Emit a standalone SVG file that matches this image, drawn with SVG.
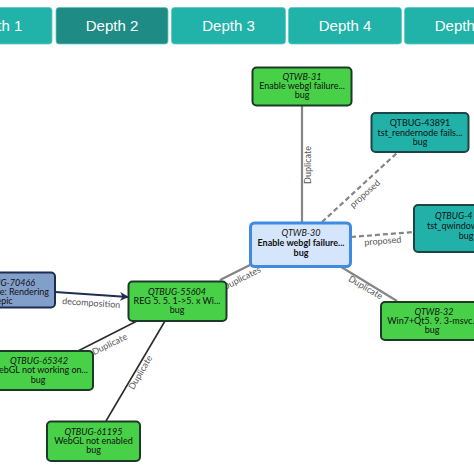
<svg xmlns="http://www.w3.org/2000/svg" width="474" height="474" viewBox="0 0 474 474">
<defs>
<style>
.tab{fill:#21b2aa;stroke:#5cc9c2;stroke-width:0.8}
.tab.on{fill:#1e8b85}
.tabt{font-family:"Liberation Sans",Arial,sans-serif;font-size:15px;fill:#fff;text-anchor:middle}
.nt{font-family:Lato,"Open Sans",sans-serif;font-size:9px;fill:#111;text-anchor:middle}
.id{font-style:italic}
.b{font-weight:bold}
.g{fill:#48d048;stroke:#1c3a28;stroke-width:2}
.t{fill:#22b1a9;stroke:#1d4545;stroke-width:2}
.s{fill:#829fc9;stroke:#1f2d52;stroke-width:2}
.m{fill:#d5e5fb;stroke:#3f8be2;stroke-width:3}
.e{fill:none;stroke:#858585;stroke-width:2.2}
.d{stroke-dasharray:5 3}
.k{fill:none;stroke:#2c2c2c;stroke-width:1.6}
.lb{font-family:Lato,"Open Sans",sans-serif;font-size:9px;fill:#555;text-anchor:middle}
</style>
<marker id="arr" viewBox="0 0 10 10" refX="9" refY="5" markerWidth="9" markerHeight="9" markerUnits="userSpaceOnUse" orient="auto">
<path d="M0,0 L10,5 L0,10 L3,5 z" fill="#1f2d55"/>
</marker>
</defs>
<rect width="474" height="474" fill="#fff"/>
<g id="tabs">
<rect class="tab" x="-61" y="7.5" width="113" height="36.5" rx="3"/>
<text class="tabt" x="-4" y="31">Depth 1</text>
<rect class="tab on" x="56" y="7.5" width="112" height="36.5" rx="3"/>
<text class="tabt" x="112" y="31">Depth 2</text>
<rect class="tab" x="171.5" y="7.5" width="114" height="36.5" rx="3"/>
<text class="tabt" x="228.5" y="31">Depth 3</text>
<rect class="tab" x="288.5" y="7.5" width="113" height="36.5" rx="3"/>
<text class="tabt" x="345" y="31">Depth 4</text>
<rect class="tab" x="404.5" y="7.5" width="113" height="36.5" rx="3"/>
<text class="tabt" x="461" y="31">Depth 5</text>
</g>
<g id="connectors">
<line class="e" x1="302" y1="105" x2="302" y2="222"/>
<text class="lb" transform="translate(311,165) rotate(-90)">Duplicate</text>
<line class="e d" x1="322" y1="222" x2="398" y2="152"/>
<text class="lb" transform="translate(367,196) rotate(-42)">proposed</text>
<line class="e d" x1="351" y1="237" x2="414" y2="232"/>
<text class="lb" transform="translate(383,244) rotate(-4.5)">proposed</text>
<line class="e" x1="338" y1="265" x2="397" y2="301"/>
<text class="lb" transform="translate(364,290) rotate(30.5)">Duplicate</text>
<line class="e" x1="220" y1="280" x2="256" y2="262"/>
<text class="lb" transform="translate(243,281) rotate(-27)">Duplicates</text>
<line x1="55" y1="292" x2="128" y2="297" stroke="#1f2d55" stroke-width="1.8" marker-end="url(#arr)"/>
<text class="lb" transform="translate(91,306) rotate(4)">decomposition</text>
<line class="k" x1="137" y1="321" x2="76" y2="352"/>
<text class="lb" transform="translate(111,347) rotate(-26)">Duplicate</text>
<line class="k" x1="165" y1="321" x2="106" y2="421"/>
<text class="lb" transform="translate(143,374) rotate(-59.5)">Duplicate</text>
</g>
<g id="QTWB-31">
<rect class="g" x="252.5" y="67.5" width="99" height="38" rx="4"/>
<text class="nt id" x="302" y="79.5">QTWB-31</text>
<text class="nt" x="302" y="88.5">Enable webgl failure...</text>
<text class="nt" x="302" y="97.5">bug</text>
</g>
<g id="QTBUG-43891">
<rect class="t" x="371.5" y="113" width="97" height="39" rx="4"/>
<text class="nt" x="420" y="126">QTBUG-43891</text>
<text class="nt" x="420" y="135.5">tst_rendernode fails...</text>
<text class="nt" x="420" y="145">bug</text>
</g>
<g id="QTBUG-4">
<rect class="t" x="414" y="205" width="100" height="47" rx="4"/>
<text class="nt id" x="435" y="219" style="text-anchor:start">QTBUG-4</text>
<text class="nt" x="427" y="229" style="text-anchor:start">tst_qwindow</text>
<text class="nt" x="466" y="238.5">bug</text>
</g>
<g id="QTWB-30">
<rect class="m" x="250.5" y="223" width="100" height="43.5" rx="4"/>
<text class="nt id" x="301" y="236">QTWB-30</text>
<text class="nt b" x="301" y="246">Enable webgl failure...</text>
<text class="nt b" x="301" y="255.5">bug</text>
</g>
<g id="QTWB-32">
<rect class="g" x="381" y="302" width="104" height="38" rx="4"/>
<text class="nt id" x="434" y="315">QTWB-32</text>
<text class="nt" x="433" y="324">Win7+Qt5. 9. 3-msvc...</text>
<text class="nt" x="432" y="333">bug</text>
</g>
<g id="QTBUG-70466">
<rect class="s" x="-45" y="272.5" width="100" height="35" rx="4"/>
<text class="nt id" x="35" y="285.5" style="text-anchor:end">QTBUG-70466</text>
<text class="nt" x="49" y="295" style="text-anchor:end">e: Rendering</text>
<text class="nt" x="4.5" y="304">epic</text>
</g>
<g id="QTBUG-55604">
<rect class="g" x="128.5" y="281.5" width="98" height="39.5" rx="4"/>
<text class="nt id" x="177" y="295">QTBUG-55604</text>
<text class="nt" x="177" y="304">REG 5. 5. 1-&gt;5. x Wi...</text>
<text class="nt" x="177" y="313">bug</text>
</g>
<g id="QTBUG-65342">
<rect class="g" x="-15" y="351" width="108" height="39" rx="4"/>
<text class="nt id" x="39" y="364">QTBUG-65342</text>
<text class="nt" x="39" y="373">WebGL not working on...</text>
<text class="nt" x="38" y="382.5">bug</text>
</g>
<g id="QTBUG-61195">
<rect class="g" x="47" y="421.5" width="93" height="39.5" rx="4"/>
<text class="nt id" x="93.5" y="435">QTBUG-61195</text>
<text class="nt" x="93.5" y="444">WebGL not enabled</text>
<text class="nt" x="93.5" y="453">bug</text>
</g>
</svg>
